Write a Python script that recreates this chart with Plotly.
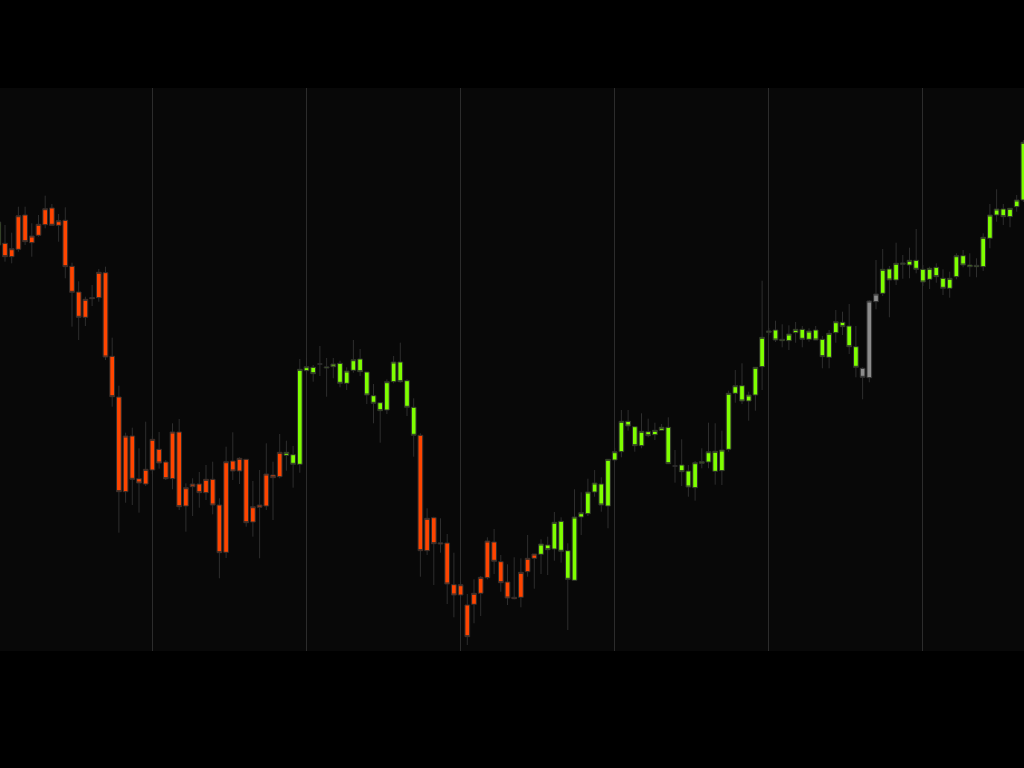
import plotly.graph_objects as go

# ---- data (price units) ----
opens = [455, 456.7, 443.3, 450.7, 485, 457.3, 464.7, 475.3, 492, 474.7,
         479.7, 433.7, 408, 382.7, 401.3, 402.3, 427.3, 343.7, 303, 208.3,
         264, 221.3, 216, 230, 250.7, 238, 221.3, 268, 194, 213.3,
         216, 207.3, 220.7, 195, 147.7, 239, 229, 240.7, 178, 192.7,
         194, 225, 223.3, 244.7, 245.3, 235.7, 329.3, 332.7, 336, 332,
         333.3, 336.7, 316.7, 329.7, 341, 328, 304.3, 297.3, 290, 318.3,
         338, 319.3, 292.7, 264.7, 149.3, 182.3, 156, 157, 115.3, 105,
         95, 95.7, 106.7, 122.3, 158, 138.3, 118, 101.3, 102.7, 128.3,
         141.7, 145.7, 155, 151, 178.7, 149.3, 119.7, 183, 186.3, 208,
         216, 194, 240, 248.3, 278.7, 273.3, 254.3, 268.3, 265.3, 269.7,
         272.7, 234, 235, 229, 212.3, 236.7, 238, 228.7, 229.3, 250.7,
         306.7, 314.3, 299, 305, 333.3, 367.7, 370, 359.3, 359.3, 367.3,
         370.7, 360.7, 370, 360.7, 342.7, 367.3, 377.7, 374, 353.3, 331.7,
         322.3, 398.3, 406.7, 431, 420, 435.7, 435, 439.7, 430.7, 420.7,
         432.7, 421.7, 411.7, 423.3, 444.3, 435, 433.3, 433.3, 461.7, 485,
         491, 483.3, 493.3, 500]
highs = [481, 475, 467.3, 493.3, 493.3, 476.7, 485, 504.3, 496, 486,
         492.7, 437.3, 418.7, 403.3, 415, 431, 433.3, 362.3, 314.3, 267.3,
         272.3, 251.7, 278.3, 264, 268, 240, 276.7, 281, 216.7, 221.7,
         228, 235, 238.3, 201.7, 253.3, 267.7, 242.7, 240.7, 219, 230,
         256.7, 238.3, 266, 259.3, 254, 341, 342, 335, 354, 342,
         342, 339.3, 332.7, 360, 351, 328, 316, 297.3, 320.7, 344,
         357.3, 320.7, 301.7, 266.7, 191.7, 183.3, 181.7, 166, 147.3, 118,
         106, 120.7, 124, 162.7, 171, 145, 135.7, 142.7, 141.7, 165,
         146, 160.7, 163.3, 188, 182.7, 156.7, 210.7, 207.7, 221.3, 230,
         222.7, 240.7, 252, 290, 290, 273.3, 286.7, 281.3, 277.3, 276,
         282.7, 250, 260.7, 235, 239, 251.7, 277.3, 276.7, 269.3, 309.3,
         330, 336.7, 308.3, 332.7, 419.3, 372, 379.3, 375.7, 374.7, 378,
         374, 371.7, 374, 364, 370, 390, 388.3, 396, 374, 332.7,
         400, 440, 451, 434, 457.3, 445, 452.3, 471, 435, 433.3,
         436.7, 430.7, 428.3, 446.7, 450, 446.7, 441.7, 466.7, 496, 510.7,
         496, 491.7, 505, 560]
lows = [452, 438.3, 436.7, 448.3, 455, 443.3, 463.3, 471.7, 474.7, 458.3,
        421.7, 373.3, 360, 374, 394, 398.3, 340, 293.3, 167.3, 197.3,
        195, 187.3, 214, 226, 231.3, 220, 210.7, 190, 168.3, 184,
        192.3, 200, 185.7, 121.7, 142, 220, 216, 173.3, 163.3, 141.7,
        190, 180, 221.7, 229.3, 212.3, 227.3, 326, 318.3, 324, 303.3,
        321.7, 312.7, 310, 327.3, 324, 296, 276.7, 257.3, 286, 316.7,
        317.3, 284, 243.3, 123.3, 145, 115, 147.3, 96, 82.7, 102,
        55, 76.7, 84, 120.7, 126, 108.3, 95, 100.7, 92.7, 123.3,
        111.3, 126, 125, 139.3, 137.3, 70, 119.7, 165, 184, 203.3,
        188.3, 171.7, 238, 242.7, 269.3, 248.3, 251.7, 262.7, 260, 269.3,
        236.3, 217.3, 214, 203.3, 199.3, 231.7, 231.7, 215.3, 215, 248.3,
        297.3, 296, 279.3, 289.3, 310, 365, 358, 352.7, 350, 357.3,
        352.7, 358.3, 360, 331.7, 331.7, 357.3, 365, 346, 322.7, 300.7,
        317.7, 390.7, 404, 382.7, 415, 421.3, 421.7, 426.7, 414, 411,
        417.3, 405, 402.3, 420.7, 432.7, 423.3, 422.7, 429, 451.7, 478.3,
        475, 472.7, 488.3, 498]
closes = [478, 443.3, 451.3, 484.3, 458.3, 464, 475.7, 491.3, 474.7, 479.3,
          433.3, 407.7, 382.7, 400.7, 402.3, 427.7, 343, 303.3, 208.3, 264,
          220.7, 217, 230.7, 260.7, 237, 221.3, 268, 193.3, 212.3, 216,
          207.3, 220.7, 195, 147.3, 238.3, 229, 241.7, 177.3, 193.3, 195,
          226, 222.3, 247.7, 247.7, 235.7, 330.7, 333.3, 326.3, 336, 333,
          336, 316.7, 329, 340.3, 328.3, 305, 296.7, 289.3, 318.3, 338,
          318.3, 292.7, 264.7, 149.3, 181.7, 156.3, 157, 116, 105, 115.3,
          63.3, 106.7, 122.7, 159, 138.7, 117.3, 102, 102.7, 127.7, 141.7,
          146, 156, 150.3, 177.7, 148.7, 120.7, 183, 187.3, 208, 217,
          195, 240.7, 248.3, 278.7, 274, 254.3, 268.7, 264.3, 269.7, 272.7,
          236.3, 234, 228.3, 213, 237.3, 238.3, 248.3, 248.7, 250, 306.7,
          314.3, 299, 305, 332.7, 362.7, 369, 360, 360.7, 366, 370.7,
          360.7, 369, 360, 343.3, 366.7, 378.3, 373.3, 353.3, 332.7, 322.7,
          399, 406, 430.7, 420, 436.7, 437, 439.7, 430.7, 418, 431.7,
          423.3, 411.7, 421.7, 444.3, 435, 433.3, 434.7, 462.7, 485, 491,
          483.3, 491.7, 500, 557.7]

# trend regimes (consecutive runs of candles)
regime_names = ["bull", "bear", "bull", "bear", "bull", "neutral", "bull"]
regime_lengths = [1, 42, 20, 18, 48, 3, 22]

grid_sessions = [23, 46, 69, 92, 115, 138]

colors = {"bull": "#7FFF00", "bear": "#FF4500", "neutral": "#8C8C8C"}
wick_color = "#2E2E2E"

fig = go.Figure()
start = 0
for name, n in zip(regime_names, regime_lengths):
    idx = list(range(start, start + n))
    c = colors[name]
    fig.add_trace(go.Candlestick(
        x=idx,
        open=opens[start:start + n], high=highs[start:start + n],
        low=lows[start:start + n], close=closes[start:start + n],
        increasing=dict(fillcolor=c, line=dict(color=wick_color, width=1)),
        decreasing=dict(fillcolor=c, line=dict(color=wick_color, width=1)),
        showlegend=False, hoverinfo="skip",
    ))
    start += n

fig.update_layout(
    width=1024, height=768,
    paper_bgcolor="#000000", plot_bgcolor="#080808",
    margin=dict(l=0, r=0, t=88, b=117),
    showlegend=False,
    boxgap=0.12, boxgroupgap=0.2,
)
fig.update_xaxes(range=[0.254, 153.09], rangeslider=dict(visible=False),
                 tickvals=grid_sessions, showticklabels=False, ticks="",
                 showgrid=True, gridcolor="#2C2C2C", gridwidth=1,
                 zeroline=False, showline=False)
fig.update_yaxes(range=[49, 612], showgrid=False, showticklabels=False,
                 zeroline=False, showline=False, ticks="")

fig.write_html("out.html", config={"displayModeBar": False},
               post_script="document.body.style.margin='0';document.body.style.overflow='hidden';")
